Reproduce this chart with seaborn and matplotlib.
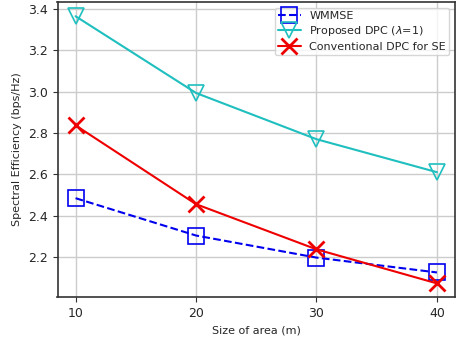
import matplotlib
matplotlib.use("Agg")
import matplotlib.pyplot as plt
import seaborn as sns
import pandas as pd

area = [10, 20, 30, 40]
wmmse = [2.484, 2.303, 2.196, 2.124]
proposed = [3.366, 2.994, 2.77, 2.61]
conventional = [2.837, 2.455, 2.236, 2.071]
labels = ["WMMSE", "Proposed DPC ($\\lambda$=1)", "Conventional DPC for SE"]

sns.set_style("whitegrid")
plt.rcParams['font.family'] = ['DejaVu Sans']

fig = plt.figure(figsize=(4.74, 3.48), dpi=100)
ax = fig.add_axes([57.5/474, 1-297/348, (455-57.5)/474, (297-2)/348])

df = pd.DataFrame({"x": area * 3,
                   "y": wmmse + proposed + conventional,
                   "s": [labels[0]]*4 + [labels[1]]*4 + [labels[2]]*4})

styles = [
    dict(color="#0000ee", ls="--", marker="s", ms=11, mew=1.2),
    dict(color="#1fbfbf", ls="-", marker="v", ms=12, mew=1.2),
    dict(color="#ee0000", ls="-", marker="x", ms=12, mew=2.0),
]
for lab, st in zip(labels, styles):
    sub = df[df.s == lab]
    sns.lineplot(data=sub, x="x", y="y", ax=ax, label=lab, color=st["color"],
                 linestyle=st["ls"], marker=st["marker"], markersize=st["ms"],
                 markerfacecolor="none", markeredgecolor=st["color"],
                 markeredgewidth=st["mew"], linewidth=1.5)

ax.set_xticks(area)
ax.set_yticks([2.2, 2.4, 2.6, 2.8, 3.0, 3.2, 3.4])
ax.set_xlim(8.5, 41.5)
ax.set_ylim(2.005, 3.435)
ax.set_xlabel("Size of area (m)", fontsize=8)
ax.set_ylabel("Spectral Efficiency (bps/Hz)", fontsize=8)
ax.tick_params(labelsize=9, length=3.5, color="#333333", bottom=True, left=True)
ax.grid(True, color="#cccccc", linewidth=1)
for sp in ax.spines.values():
    sp.set_color("#333333")
    sp.set_linewidth(1.2)
ax.legend(loc="upper right", fontsize=8, handlelength=2, borderpad=0.3,
          labelspacing=0.3, framealpha=0.8)

fig.savefig("out.png", dpi=100)
